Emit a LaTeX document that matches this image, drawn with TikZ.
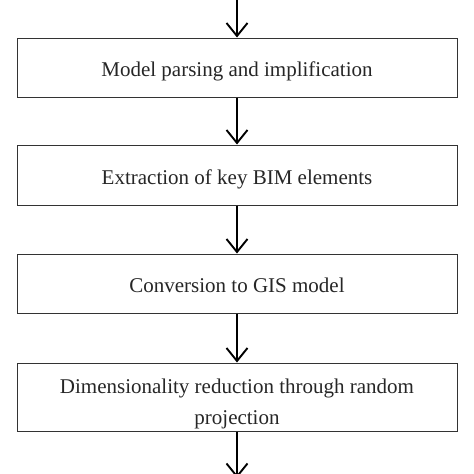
\documentclass[tikz,border=0pt]{standalone}
\usepackage{fontspec}
\setmainfont{Liberation Serif}
\usetikzlibrary{arrows.meta}
\begin{document}
\begin{tikzpicture}[x=1pt,y=-1pt,
  stepbox/.style={draw=black!80, line width=1pt, minimum width=440pt, inner sep=0pt, align=center, font=\fontsize{21}{28}\selectfont, text=black!85, text height=18pt, text depth=0pt},
  steptext/.style={inner sep=0pt, align=center, font=\fontsize{21}{31}\selectfont, text=black!85},
  flow/.style={line width=1.9pt, -{Straight Barb[length=13pt,width=21pt,line width=1.9pt]}}]
\useasboundingbox (0,0) rectangle (474,474);
\node[stepbox, minimum height=59pt] (b1) at (237,67.5) {Model parsing and implification};
\node[stepbox, minimum height=60pt] (b2) at (237,175) {Extraction of key BIM elements};
\node[stepbox, minimum height=59pt] (b3) at (237,283.5) {Conversion to GIS model};
\node[draw=black!80, line width=1pt, minimum width=440pt, minimum height=68pt, inner sep=0pt] (b4) at (237,397) {};
\node[steptext] (t4) at (237,404) {Dimensionality reduction through random\\projection};
\coordinate (top) at (237,-2);
\coordinate (bot) at (237,478);
\draw[flow] (top) -- (b1.north);
\draw[flow] (b1.south) -- (b2.north);
\draw[flow] (b2.south) -- (b3.north);
\draw[flow] (b3.south) -- (b4.north);
\draw[flow] (b4.south) -- (bot);
\end{tikzpicture}
\end{document}
